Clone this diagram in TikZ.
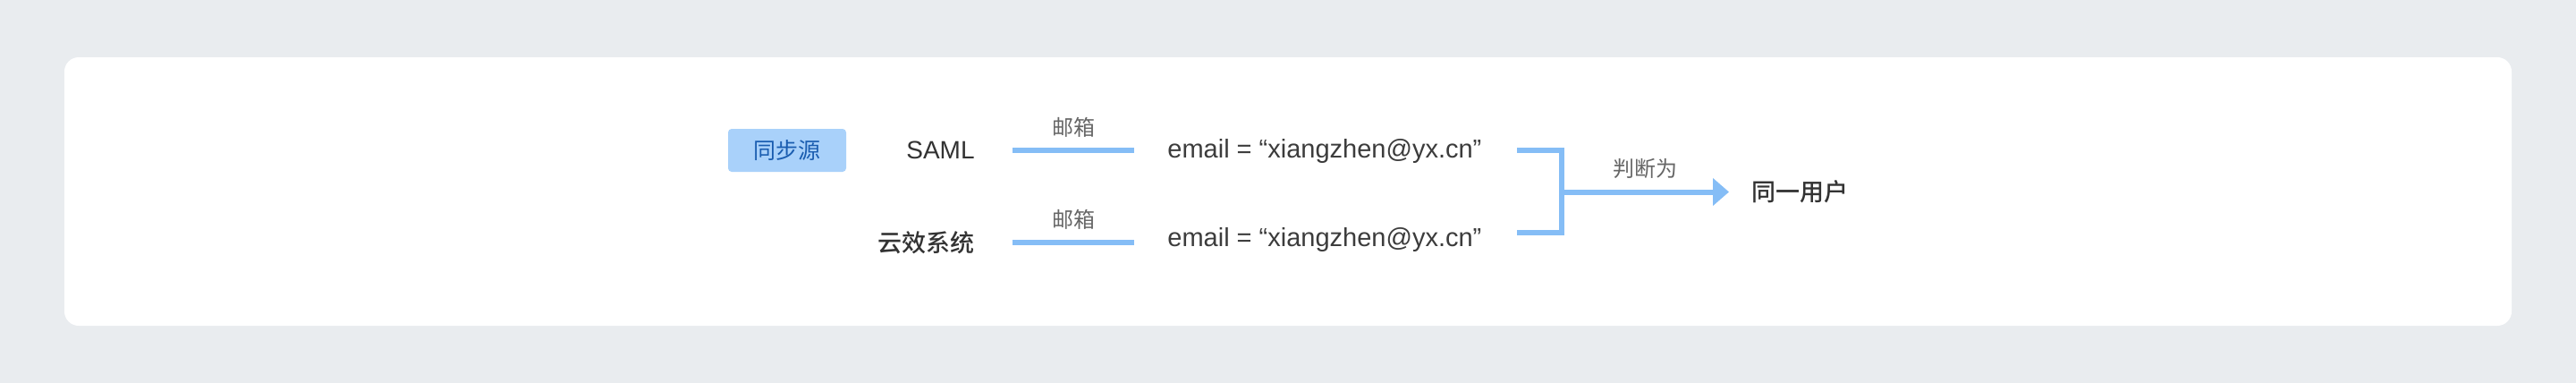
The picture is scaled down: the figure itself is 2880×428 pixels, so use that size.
\documentclass[tikz,border=0pt]{standalone}
\usepackage{fontspec}
\setmainfont{Liberation Sans}
\newfontfamily\cjk{Noto Sans CJK SC}
\newfontfamily\cjkmedium{Noto Sans CJK SC}[UprightFont={* Medium}]
\usetikzlibrary{arrows.meta,positioning}

\definecolor{pagegray}{HTML}{E9ECEF}
\definecolor{lineblue}{HTML}{85BDF6}
\definecolor{syncfill}{HTML}{A9D1FA}
\definecolor{synctext}{HTML}{1A5DB0}
\definecolor{darktext}{HTML}{333333}
\definecolor{mailtext}{HTML}{3C3C3C}
\definecolor{graytext}{HTML}{666666}

\begin{document}
\begin{tikzpicture}[
        x=0.5pt, y=-0.5pt,
        every node/.style={inner sep=0pt, text=darktext},
        nodesync/.style={rounded corners=2pt, fill=syncfill, minimum width=66pt, minimum height=24pt, text=synctext, font=\cjk\fontsize{12.5}{12.5}\selectfont},
        nodename/.style={anchor=east, font=\fontsize{14}{14}\selectfont},
        nodecjk/.style={font=\cjkmedium\fontsize{13.5}{13.5}\selectfont},
        nodemail/.style={anchor=west, text=mailtext, font=\fontsize{14.5}{14.5}\selectfont},
        nodelabel/.style={text=graytext, font=\cjk\fontsize{12}{12}\selectfont},
        edgeblue/.style={draw=lineblue, line width=3pt}
        ]
        \fill [pagegray] (0,0) rectangle (2880,428);
        \fill [white, rounded corners=8pt] (72,64) rectangle (2808,364);
        \useasboundingbox (0,0) rectangle (2880,428);

        \node [nodesync] (sync) at (880,168) {同步源};
        \node [nodename] (saml) at (1090,168) {SAML};
        \node [nodename, nodecjk] (yunxiao) at (1090,271) {云效系统};
        \node [nodemail] (mail1) at (1305,169) {email = “xiangzhen@yx.cn”};
        \node [nodemail] (mail2) at (1305,268) {email = “xiangzhen@yx.cn”};
        \node [nodecjk, anchor=west] (user) at (1958,214.5) {同一用户};

        \draw [edgeblue] ([xshift=21pt]saml.east) -- node [nodelabel, above=6pt] (box1) {邮箱} ([xshift=89pt]saml.east);
        \draw [edgeblue] ([xshift=21pt]yunxiao.east) -- node [nodelabel, above=6pt] (box2) {邮箱} ([xshift=89pt]yunxiao.east);

        \coordinate (forktop) at (1696,168);
        \coordinate (forkbottom) at (1696,259.5);
        \coordinate (fork) at (1745.5,214.5);
        \draw [edgeblue] (forktop) -| (fork) |- (forkbottom);
        \draw [edgeblue, -{Triangle[length=9pt, width=15pt]}] (fork) -- node [nodelabel, above=6pt] (judge) {判断为} ([xshift=-12.5pt]user.west);
    \end{tikzpicture}
\end{document}
